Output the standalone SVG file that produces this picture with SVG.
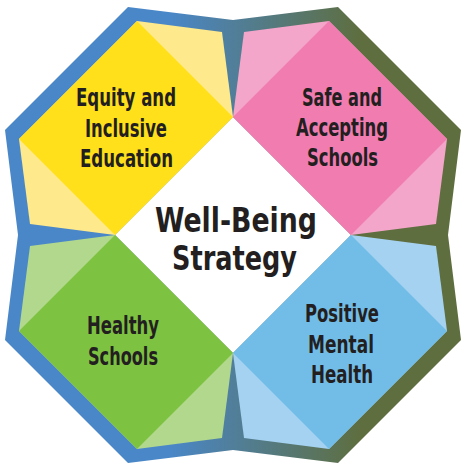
<svg xmlns="http://www.w3.org/2000/svg" width="465" height="470" viewBox="0 0 465 470">
  <defs>
    <linearGradient id="frameGrad" gradientUnits="userSpaceOnUse" x1="170" y1="0" x2="360" y2="0">
      <stop offset="0" stop-color="#4A87C8"/>
      <stop offset="1" stop-color="#5E6E3F"/>
    </linearGradient>
    <style>
      .lbl { font-family: "Liberation Sans Narrow", "DejaVu Sans Condensed", "DejaVu Sans", sans-serif; font-weight: bold; font-size: 24px; fill: #231F20; text-anchor: middle; }
      .title { font-family: "Liberation Sans Narrow", "DejaVu Sans Condensed", "DejaVu Sans", sans-serif; font-weight: bold; font-size: 34px; fill: #231F20; text-anchor: middle; }
    </style>
  </defs>
  <rect width="465" height="470" fill="#FFFFFF"/>
  <g id="frame">
    <polygon points="128,7 233,20 338,7 461,130 448,235 461,340 338,463 233,450 128,463 5,340 18,235 5,130" fill="url(#frameGrad)"/>
    <polygon points="233,117 351,235 233,353 115,235" fill="#FFFFFF"/>
  </g>
  <g id="equity">
    <polygon points="137,21 222,32 233,117 115,235 30,224 19,139" fill="#FEE98C"/>
    <polygon points="137,21 233,117 115,235 19,139" fill="#FFE01B"/>
    <text class="lbl" x="126" y="106" textLength="100" lengthAdjust="spacingAndGlyphs">Equity and</text>
    <text class="lbl" x="126" y="137" textLength="82" lengthAdjust="spacingAndGlyphs">Inclusive</text>
    <text class="lbl" x="126.5" y="167" textLength="93" lengthAdjust="spacingAndGlyphs">Education</text>
  </g>
  <g id="safe">
    <polygon points="329,21 244,32 233,117 351,235 436,224 447,139" fill="#F4A5CA"/>
    <polygon points="329,21 233,117 351,235 447,139" fill="#F07CB0"/>
    <text class="lbl" x="342" y="106" textLength="80" lengthAdjust="spacingAndGlyphs">Safe and</text>
    <text class="lbl" x="342" y="136" textLength="92" lengthAdjust="spacingAndGlyphs">Accepting</text>
    <text class="lbl" x="342.5" y="166" textLength="71" lengthAdjust="spacingAndGlyphs">Schools</text>
  </g>
  <g id="healthy">
    <polygon points="137,449 222,438 233,353 115,235 30,246 19,331" fill="#B2D88E"/>
    <polygon points="137,449 233,353 115,235 19,331" fill="#7EC242"/>
    <text class="lbl" x="123" y="334" textLength="72" lengthAdjust="spacingAndGlyphs">Healthy</text>
    <text class="lbl" x="123" y="365" textLength="70" lengthAdjust="spacingAndGlyphs">Schools</text>
  </g>
  <g id="mental">
    <polygon points="329,449 244,438 233,353 351,235 436,246 447,331" fill="#A6D2F2"/>
    <polygon points="329,449 233,353 351,235 447,331" fill="#72BDE8"/>
    <text class="lbl" x="342" y="322" textLength="74" lengthAdjust="spacingAndGlyphs">Positive</text>
    <text class="lbl" x="341" y="353" textLength="66" lengthAdjust="spacingAndGlyphs">Mental</text>
    <text class="lbl" x="342" y="383" textLength="62" lengthAdjust="spacingAndGlyphs">Health</text>
  </g>
  <g id="center">
    <text class="title" x="236" y="232" textLength="162" lengthAdjust="spacingAndGlyphs">Well-Being</text>
    <text class="title" x="234.5" y="270" textLength="125" lengthAdjust="spacingAndGlyphs">Strategy</text>
  </g>
</svg>
